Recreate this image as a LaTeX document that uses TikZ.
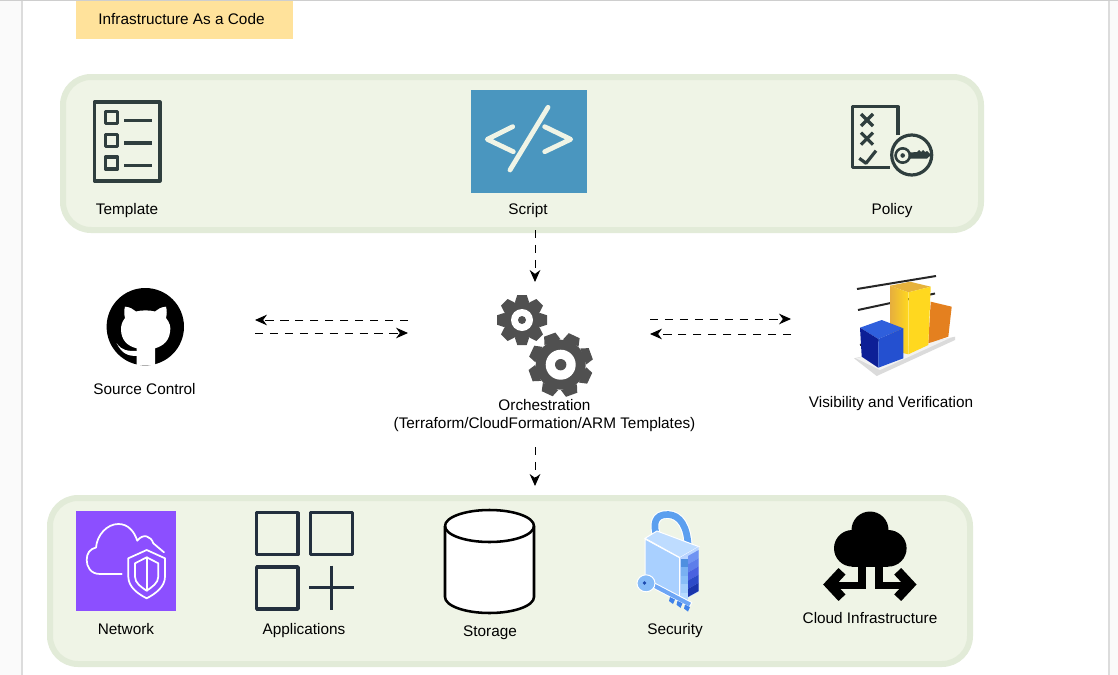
\documentclass[tikz,border=0pt]{standalone}
\usepackage{fontspec}
\setmainfont{Liberation Sans}
\usetikzlibrary{arrows.meta}
\definecolor{gutter}{HTML}{FAFAFA}
\definecolor{pageline}{HTML}{DCDCDC}
\definecolor{banner}{HTML}{FFE29B}
\definecolor{panelfill}{HTML}{EFF4E6}
\definecolor{panelline}{HTML}{E2EBD8}
\definecolor{icondark}{HTML}{2F3E3E}
\definecolor{scriptblue}{HTML}{4A96BF}
\definecolor{gearcol}{HTML}{505050}
\definecolor{awspurple}{HTML}{8C4FFF}
\definecolor{awsdark}{HTML}{232F3E}
% chart
\definecolor{orangeright}{HTML}{E4801F}
\definecolor{orangeleft}{HTML}{E89A3A}
\definecolor{yellowtop}{HTML}{E6B23C}
\definecolor{yellowleft}{HTML}{E6AE3E}
\definecolor{yellowright}{HTML}{FFD81F}
\definecolor{cubetop}{HTML}{2F5FDC}
\definecolor{cubeleft}{HTML}{0D1F96}
\definecolor{cuberight}{HTML}{2450D0}
% lock
\definecolor{shackle}{HTML}{5C9FEF}
\definecolor{lockside}{HTML}{A9D0FF}
\definecolor{locktop}{HTML}{BEDCFF}
\definecolor{lockright}{HTML}{B9D4FF}
\definecolor{keyshaft}{HTML}{6EA6F5}
\definecolor{keyhead}{HTML}{86BBF8}
\definecolor{keyblue}{HTML}{3F82EA}
\definecolor{keyhole}{HTML}{1E4BB0}
\definecolor{stripea}{HTML}{6F93F2}
\definecolor{stripeb}{HTML}{5D7EEA}
\definecolor{stripec}{HTML}{4A62E0}
\definecolor{striped}{HTML}{2D4BC8}
\definecolor{stripee}{HTML}{1A35AC}
\definecolor{rowa}{HTML}{4F8FE0}
\definecolor{rowb}{HTML}{79B0F2}
\definecolor{rowc}{HTML}{88BDF7}
\definecolor{rowd}{HTML}{A2CDFB}
\definecolor{rowe}{HTML}{B6DAFF}
\tikzset{
	caption/.style={font=\fontsize{11.5pt}{13.5pt}\selectfont, text=black, inner sep=0pt, align=center},
	panel/.style={draw=panelline, fill=panelfill, line width=4.5pt, rounded corners=21pt},
	flow/.style={black, line width=0.75pt, dash pattern=on 6.2pt off 5pt, -{Stealth[length=9pt,width=8pt]}},
	doodle/.style={draw=icondark, line width=2.4pt, line join=round},
}
\begin{document}
\begin{tikzpicture}[x=0.75pt, y=-0.75pt]
	\useasboundingbox (0,0) rectangle (1118,675);

	% Page
	\fill[gutter] (0,0) rectangle (1118,675);
	\fill[white] (22,1) rectangle (1108,675);
	\draw[pageline, line width=1.5pt] (22,0) -- (22,675);
	\draw[pageline, line width=1.5pt] (1109,0) -- (1109,675);
	\draw[pageline!85!gray, line width=1pt] (0,0.5) -- (1118,0.5);

	% Banner
	\fill[banner] (76,1) rectangle (293,39);
	\node[caption, anchor=base] (banner) at (181.5,24) {Infrastructure As a Code};

	% Panels
	\draw[panel] (63,77) rectangle (981,230);
	\draw[panel] (50,498) rectangle (970,664);

	% Template
	\draw[doodle] (94.5,102) rectangle (160,181);
	\foreach \iy in {117.7,140.5,163} {
		\draw[doodle] (105.5,\iy-6) rectangle (117.5,\iy+6);
		\draw[doodle] (124,\iy+2.5) -- (152,\iy+2.5);
	}
	\node[caption, anchor=base] (template) at (127,214.5) {Template};

	% Script
	\fill[scriptblue] (471,90) rectangle (586.5,192.5);
	\begin{scope}[panelfill, line width=3.6pt, line cap=round, line join=round]
		\draw (512.7,126.7) -- (487.3,139.3) -- (513.3,151.7);
		\draw (544.7,126.7) -- (570.7,139.3) -- (544.7,151.7);
		\draw (548,107.3) -- (510,170);
	\end{scope}
	\node[caption, anchor=base] (script) at (528,214.5) {Script};

	% Policy
	\draw[doodle] (898,135) -- (898,106.7) -- (852.7,106.7) -- (852.7,167.3) -- (890,167.3);
	\foreach \iy in {120,138.7} {
		\draw[doodle] (861,\iy-6) -- (873,\iy+6);
		\draw[doodle] (873,\iy-6) -- (861,\iy+6);
	}
	\draw[doodle] (859.3,158.3) -- (866,163.3) -- (876,150.7);
	\draw[doodle] (911.7,155) circle [radius=20];
	\fill[icondark] (902.7,155.5) circle [radius=8.5];
	\fill[panelfill] (902.7,155.5) circle [radius=5.7];
	\fill[icondark] (902.7,155.5) circle [radius=2.3];
	\fill[icondark] (910,152.5) -- (917,152) -- (919,150) -- (921,152) -- (923,150) -- (925,152)
		-- (927,151) -- (931,155) -- (927,158.5) -- (910,158.5) -- cycle;
	\node[caption, anchor=base] (policy) at (892,214.5) {Policy};

	% Source control
	\fill[black] (145.3,326.7) circle [radius=38.7];
	\fill[white] (136.7,365) -- (136.7,348.3) .. controls (127,346) and (121.5,340) .. (121,330)
		.. controls (121,325) and (122,322) .. (125,318) .. controls (124,314) and (124,310) .. (125,306.7)
		.. controls (130,307) and (133,309) .. (136,311.5) .. controls (142,310) and (149,310) .. (155,311.5)
		.. controls (158,309) and (161,307) .. (166,306.7) .. controls (167,310) and (167,314) .. (166,318)
		.. controls (170,323) and (171,327) .. (170,332) .. controls (169,341) and (163,346) .. (155,348.3)
		-- (155,365) -- cycle;
	\fill[white] (116.5,343) .. controls (122,351) and (128,351) .. (137,351) -- (137,356)
		.. controls (128,356) and (122,354) .. (116.5,343) -- cycle;
	\node[caption, anchor=base] (source) at (144.5,394.3) {Source Control};

	% Orchestration
	\foreach \gx/\gy/\gbody/\gtip/\gbase/\gtop/\ghole/\ghub/\gturn in
		{522/320/19/25/7/4.7/11/4/0, 560.7/364.7/25/32/8.5/6/15/5.7/20} {
		\fill[gearcol] (\gx,\gy) circle [radius=\gbody];
		\foreach \ang in {0,45,...,315} {
			\fill[gearcol, shift={(\gx,\gy)}, rotate=\ang+\gturn]
				(-\gbase,\gbody-1) -- (-\gtop,\gtip) -- (\gtop,\gtip) -- (\gbase,\gbody-1) -- cycle;
		}
		\fill[white] (\gx,\gy) circle [radius=\ghole];
		\fill[gearcol] (\gx,\gy) circle [radius=\ghub];
	}
	\node[caption] (orchestration) at (544.5,416) {Orchestration\\(Terraform/CloudFormation/ARM Templates)};

	% Visibility
	\draw[black!85, line width=1.5pt] (857,289) -- (936,276);
	\draw[black!85, line width=1.5pt] (858,310) -- (935,293.5);
	\draw[black!85, line width=1.5pt] (860,345) -- (900,335);
	\fill[black!14] (854,358.3) -- (955,336.7) -- (955,340) -- (876.7,376) -- cycle;
	\fill[black!5] (856,358.3) -- (950,338) -- (880,370) -- cycle;
	\fill[orangeright] (930.7,301.7) -- (951.7,306.7) -- (948.3,336.7) -- (928.3,343.3) -- cycle;
	\fill[yellowtop] (890,285.7) -- (910,281.7) -- (930.7,286.7) -- (908.3,292.3) -- cycle;
	\shade[left color=yellowleft, right color=yellowright] (890,285.7) -- (908.3,292.3) -- (908.3,354.3) -- (890,350) -- cycle;
	\fill[yellowright] (908.3,292.3) -- (930.7,286.7) -- (928.3,345) -- (908.3,354.3) -- cycle;
	\fill[cubetop] (860,327.7) -- (881.7,320) -- (903.3,328.3) -- (878.3,339) -- cycle;
	\fill[cubeleft] (860,327.7) -- (878.3,339) -- (878.3,367.7) -- (861.7,356.7) -- cycle;
	\fill[cuberight] (878.3,339) -- (903.3,328.3) -- (903.3,358.3) -- (878.3,367.7) -- cycle;
	\node[caption, anchor=base] (visibility) at (891,407.5) {Visibility and Verification};

	% Network
	\fill[awspurple] (76,511) rectangle (175.5,611);
	\begin{scope}[white, line width=1.3pt, line cap=round, line join=round]
		\draw (121.7,574) -- (100,574) .. controls (90,574) and (86.7,566) .. (86.7,560)
			.. controls (86.7,553) and (90,549) .. (96,547.5) .. controls (97,535) and (107,524) .. (118.3,524)
			.. controls (128,524) and (134,531) .. (137.3,540.7) .. controls (143,533) and (151,536) .. (153.3,543.3)
			-- (164,552.3);
		\draw (146.7,550) -- (165,558.3) -- (165,576.7) .. controls (165,587) and (155,594) .. (146.7,598.3)
			.. controls (138,594) and (128.3,587) .. (128.3,576.7) -- (128.3,558.3) -- cycle;
		\draw (146.7,557.3) -- (158.3,563.3) -- (158.3,576.7) .. controls (158.3,583) and (152,587) .. (146.7,590.7)
			.. controls (141,587) and (135,583) .. (135,576.7) -- (135,563.3) -- cycle;
		\draw (146.7,557.3) -- (146.7,590.7);
	\end{scope}
	\node[caption, anchor=base] (network) at (126,634) {Network};

	% Applications
	\begin{scope}[awsdark, line width=2.6pt, line join=round]
		\draw (256.7,512.7) rectangle (298,554.5);
		\draw (310.7,512.7) rectangle (352.7,554.5);
		\draw (256.7,567) rectangle (298,609);
		\draw (331.7,565.7) -- (331.7,610.3);
		\draw (309.3,587.7) -- (354,587.7);
	\end{scope}
	\node[caption, anchor=base] (applications) at (304,634) {Applications};

	% Storage
	\draw[black, fill=white, line width=1.9pt] (445,526) -- (445,597) arc [start angle=180, end angle=360, x radius=44.5, y radius=-16]
		-- (534,526) arc [start angle=0, end angle=180, x radius=44.5, y radius=-16];
	\draw[black, line width=1.9pt] (445,526) arc [start angle=180, end angle=360, x radius=44.5, y radius=-16];
	\node[caption, anchor=base] (storage) at (490,636) {Storage};

	% Security
	\draw[white, line width=6.6pt, line cap=round] (656.7,536) .. controls (653,525) and (654,514) .. (668,514.5) .. controls (680,515) and (687.5,526) .. (688.3,548);
	\draw[shackle, line width=5pt, line cap=round] (656.7,536) .. controls (653,525) and (654,514) .. (668,514.5) .. controls (680,515) and (687.5,526) .. (688.3,548);
	\fill[locktop, draw=white, line width=0.75pt] (645,538.3) -- (657,531) -- (699,546.7) -- (680,557.7) -- cycle;
	\fill[lockside, draw=white, line width=0.75pt] (645,539) -- (679.5,557.7) -- (679.5,601.7) -- (645,577) -- cycle;
	\fill[lockright] (680,557.7) -- (698.7,546.7) -- (698.7,591.7) -- (680,601.7) -- cycle;
	\foreach \ik/\kc in {0/stripea,1/stripeb,2/stripec,3/striped,4/stripee} {
		\fill[\kc] (688,556+8.2*\ik) -- (698.7,550+8.2*\ik) -- (698.7,558.2+8.2*\ik) -- (688,564.2+8.2*\ik) -- cycle;
	}
	\foreach \ik/\kc in {0/rowa,1/rowb,2/rowc,3/rowd,4/rowe} {
		\fill[\kc] (680.7,559+8.4*\ik) rectangle (687.5,567.4+8.4*\ik);
	}
	\draw[white, line width=4.5pt] (651,584) -- (691,605);
	\draw[keyshaft, line width=3pt] (651,584) -- (690,604.5);
	\foreach \ix in {0,1,2} {
		\fill[keyblue] (670+7.5*\ix,597+3.8*\ix) -- (675+7.5*\ix,599.5+3.8*\ix) -- (673+7.5*\ix,604+3.8*\ix) -- (669+7.5*\ix,601+3.8*\ix) -- cycle;
	}
	\fill[keyhead, draw=white, line width=0.75pt] (646,583.3) ellipse [x radius=9, y radius=8.5];
	\fill[keyhole] (644.5,583) circle [radius=1.8];
	\node[caption, anchor=base] (security) at (675,634) {Security};

	% Cloud infrastructure
	\fill[black] (870,530) circle [radius=18.5];
	\fill[black] (852.3,548.3) circle [radius=18.3];
	\fill[black] (888.3,548.3) circle [radius=18.3];
	\fill[black] (852.3,540) rectangle (888.3,566.7);
	\draw[black, line width=5.75pt] (862,560) -- (862,585.5) -- (832,585.5);
	\draw[black, line width=5.75pt] (879,560) -- (879,585.5) -- (908,585.5);
	\begin{scope}[black, line width=7.2pt, line join=miter]
		\draw (842,571.3) -- (829.7,584.5) -- (842,597.7);
		\draw (897.7,571.3) -- (910,584.5) -- (897.7,597.7);
	\end{scope}
	\node[caption, anchor=base] (infrastructure) at (870,623) {Cloud Infrastructure};

	% Flows
	\coordinate (script out) at (535,230);
	\coordinate (orchestration in) at (535,282);
	\coordinate (orchestration out) at (535,447);
	\coordinate (stack in) at (535,486);
	\coordinate (source a) at (255,320);
	\coordinate (source b) at (255,333);
	\coordinate (orchestration a) at (408,320);
	\coordinate (orchestration b) at (408,333);
	\coordinate (orchestration c) at (650,319);
	\coordinate (orchestration d) at (650,334);
	\coordinate (visibility a) at (791,319);
	\coordinate (visibility b) at (791,334);
	\draw[flow] (script out) -- (orchestration in);
	\draw[flow] (orchestration out) -- (stack in);
	\draw[flow] (orchestration a) -- (source a);
	\draw[flow] (source b) -- (orchestration b);
	\draw[flow] (orchestration c) -- (visibility a);
	\draw[flow] (visibility b) -- (orchestration d);
\end{tikzpicture}
\end{document}
